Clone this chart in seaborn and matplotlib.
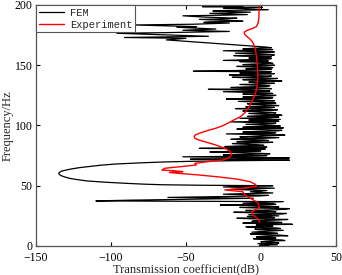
import matplotlib
matplotlib.use("Agg")
import matplotlib.pyplot as plt
import seaborn as sns
import pandas as pd

# ---------------- FEM (black) ----------------
fem_f_low = [i / 2 for i in range(0, 72)]          # 0 .. 35.5 Hz
fem_v_low = [5, -1, 11, 4, -2, 12, 9, 0, 3, 16, 14, 2, -5, 10, 8, -3, 2, 18, 13, -1,
             -7, 11, 6, -6, 1, 9, 15, -2, -4, 13, 10, -8, -10, 8, 4, -3, 21, 2, -12, 14,
             7, -6, -3, 11, 18, -4, -16, 9, 5, -9, 12, 2, -8, 14, 17, -5, -18, 10, 3, -10,
             9, 16, 19, -3, -14, 12, 6, -6, -27, 10, 8, -12]

fem_f_spike = [36.8, 37.4, 38.0, 39.6, 40.3, 41.5]
fem_v_spike = [15, -110, -88, -5, -62, -1]

fem_f_mid = [42, 43, 44, 45, 46, 47, 48, 49, 49.6, 50.0]
fem_v_mid = [5, -25, 8, -7, 4, -20, 9, -25, -10, 8]

fem_f_loop = [50.4, 50.8, 51.3, 52, 53, 54, 55, 56, 57, 58, 59, 60, 61, 62, 63, 64, 65,
              66, 67, 68, 69, 69.7, 70.3, 70.8, 71.2]
fem_v_loop = [-40, -65, -78, -90, -105, -116, -122, -127, -130, -132.5, -134, -134.8,
              -134.5, -133, -130, -126, -121, -114, -107, -97, -80, -65, -45, -15, 19]

fem_f_a = [i / 2 for i in range(144, 184)]         # 72 .. 91.5 Hz
fem_v_a = [-47, -8, 19, -20, -52, -5, 4, -25, -18, 6, -2, -14, -34, -6, 0, -22, -12, 3,
           -41, -9, 4, -24, -15, 2, -3, -12, -19, -4, 8, -16, -10, 5, 2, -20, -12, 6, 12,
           -14, -6, 4]

fem_f_b = [i / 2 for i in range(184, 272)]         # 92 .. 135.5 Hz
fem_v_b = [16, -5, -23, 6, 10, -12, -4, 11, 14, 2, -16, -4, 15, -12, -6, 13, 7, -2, -10, 9,
           10, -6, -20, 12, 4, -8, 13, 0, -14, 6, 12, -9, -3, 14, 8, -2, -8, 10, 6, -4,
           -12, 3, 11, -6, -17, 6, 9, -10, -4, 12, 7, -2, -9, 10, 8, -4, -15, 9, 3, -8,
           -23, 4, 8, -12, -6, 7, 10, -3, -12, 8, 5, -10, -25, 6, 1, -14, -35, 7, 3, -20,
           -10, 4, 6, -4, -14, 3, 9, -3]

fem_f_c = [i / 2 for i in range(272, 331)]         # 136 .. 165 Hz
fem_v_c = [-8, 5, 14, -4, -12, 6, 11, -8, -19, 5, 7, -10, -21, -2, 9, -14, 2, 7, -45, -20,
           -1, 7, -10, 2, 8, -7, -16, 5, 9, -12, -5, 8, 6, -3, -14, 5, -25, -10, 4, 7,
           -8, -2, 7, -12, -18, 9, 6, -5, -17, 3, 9, -8, -25, 2, 8, -12, -6, 7, 4]

fem_f_top = [171, 172.3, 173, 174, 175, 176.5, 177, 178, 179, 180, 181.5, 182, 183.4, 184,
             185, 185.5, 186, 186.5, 187, 188, 188.5, 189, 189.5, 190, 191, 191.5, 192,
             193, 193.5, 194, 195, 195.5, 196, 196.5, 197, 197.5, 198, 198.6, 199, 199.5,
             200]
fem_v_top = [-63, -50, -91, -35, -60, -96, -65, -21, -52, -30, -56, -43, -85, -45,
             -21, -38, -34, -12, -19, -41, -22, -16, -28, -39, -52, -25, -9,
             -34, -20, -7, -32, -22, 5, -4, -14, -25, 1, -39, -12, -18,
             -29]

# ---------------- Experiment (red) ----------------
exp_f = [19.5, 22, 25.5, 28.5, 32, 36, 39.6, 42.3, 45, 46.5, 47.5, 49.5, 51, 53.4, 55.5,
         57.5, 59, 60.3, 61, 61.7, 62.3, 63, 64.5, 66, 67.2, 68.6, 69.2, 70.5, 71.4, 73.5,
         75.5, 77.5, 79.7, 81.5, 83.8, 86, 88, 89.4, 91, 92.3, 94, 96, 97.7, 100, 102.5,
         104.6, 107, 110, 115, 120, 127, 133, 140, 148, 156, 163, 168, 170, 172, 174, 176,
         177.5, 179, 180.5, 182, 185, 190, 195, 200]
exp_v = [-0.7, -1.5, -5, -6, -1, -2, -7, -10.7, -12, -24, -15, -3, -3.5, -7.3, -16,
         -29.6, -42, -55, -61, -52, -57, -66, -64, -52, -43, -44, -40, -32, -25, -21,
         -19.6, -20, -21.5, -25, -30, -36, -41.5, -44, -44.5, -43.5, -40, -35, -30, -25, -21,
         -18, -14, -11, -8, -6, -3.5, -2.5, -2, -2.2, -2.8, -3.6, -5, -6, -7.5, -9.5, -11,
         -11, -9, -5.5, -3, -1.8, -1.3, -1.2, -1.1]

x_ticks = [-150, -100, -50, 0, 50]
y_ticks = [0, 50, 100, 150, 200]

fem_f = fem_f_low + fem_f_spike + fem_f_mid + fem_f_loop + fem_f_a + fem_f_b + fem_f_c + fem_f_top
fem_v = fem_v_low + fem_v_spike + fem_v_mid + fem_v_loop + fem_v_a + fem_v_b + fem_v_c + fem_v_top
assert len(fem_f) == len(fem_v), (len(fem_f), len(fem_v))
assert len(exp_f) == len(exp_v)

fem_df = pd.DataFrame({"freq": fem_f, "val": fem_v})
exp_df = pd.DataFrame({"freq": exp_f, "val": exp_v})

sns.set_style("ticks")
plt.rcParams["font.family"] = ["Liberation Serif", "DejaVu Serif"]

fig = plt.figure(figsize=(3.42, 2.75), dpi=100)
ax = fig.add_axes([0.105, 0.1055, 0.877, 0.8765])

sns.lineplot(data=fem_df, x="val", y="freq", sort=False, estimator=None, orient="y",
             color="black", linewidth=0.9, label="FEM", ax=ax)
sns.lineplot(data=exp_df, x="val", y="freq", sort=False, estimator=None, orient="y",
             color="red", linewidth=1.0, label="Experiment", ax=ax)

ax.set_xlim(-150, 50)
ax.set_ylim(0, 200)
ax.set_xticks(x_ticks)
ax.set_yticks(y_ticks)
ax.tick_params(direction="in", length=3, width=0.8, top=True, right=True,
               labelsize=8.5, colors="black")
ax.tick_params(axis="x", pad=4.5)
ax.tick_params(axis="y", pad=2.5)
for s in ax.spines.values():
    s.set_color("#555555")
    s.set_linewidth(0.9)

ax.set_xlabel("Transmission coefficient(dB)", fontsize=9, labelpad=-1)
ax.set_ylabel("Frequency/Hz", fontsize=9, labelpad=1)

leg = ax.legend(loc="upper left", borderaxespad=0, frameon=True, fancybox=False,
                edgecolor="#555555", framealpha=1, prop={"family": "Liberation Mono", "size": 7.5},
                handlelength=2.4, handletextpad=0.6, borderpad=0.25, labelspacing=0.2)
leg.get_frame().set_linewidth(0.8)

fig.savefig("out.png", dpi=100)
